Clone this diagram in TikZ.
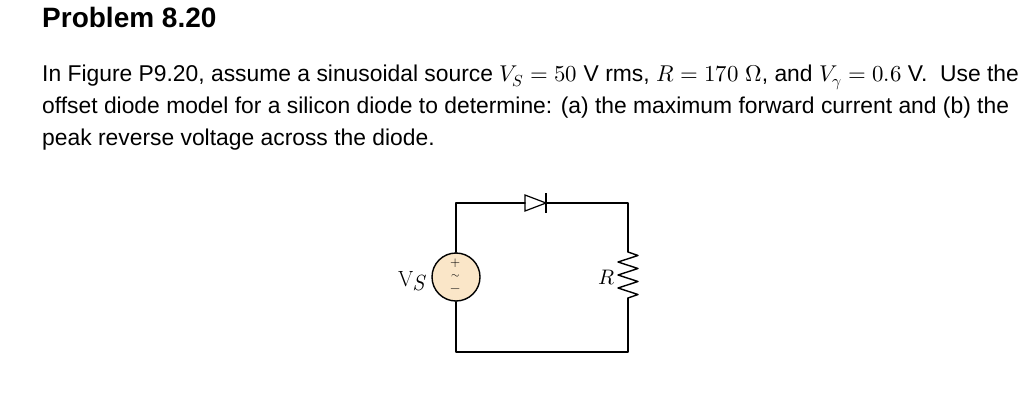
\documentclass[tikz,border=0pt]{standalone}
\usepackage{fontspec}
\setmainfont{Liberation Sans}
\newfontfamily\lmfont{Latin Modern Roman}
\usepackage{unicode-math}
\setmathfont{Latin Modern Math}
\definecolor{srcfill}{RGB}{250,230,200}
\begin{document}
\begin{tikzpicture}[x=1pt,y=-1pt,
  txt/.style={anchor=base west,inner sep=0pt,font=\fontsize{22.85}{26}\selectfont},
  sym/.style={inner sep=0pt,font=\fontsize{13}{13}\selectfont},
  wire/.style={line width=1.6pt,line cap=round,line join=round}]
\useasboundingbox (0,0) rectangle (1024,402);
\node[txt,font=\fontsize{28}{32}\selectfont\bfseries] (title) at (42,27) {Problem 8.20};
\node[txt] (l1) at (42,81) {In Figure P9.20, assume a sinusoidal source $V_S = 50$ V rms, $R = 170\ \Omega$, and $V_\gamma = 0.6$ V.\ \ Use the};
\node[txt] (l2) at (42,113) {offset diode model for a silicon diode to determine: (a) the maximum forward current and (b) the};
\node[txt] (l3) at (42,145) {peak reverse voltage across the diode.};
% circuit
\coordinate (tl) at (456,203);
\coordinate (tr) at (628,203);
\coordinate (br) at (628,352);
\coordinate (bl) at (456,352);
\coordinate (dA) at (525,203);
\coordinate (dK) at (546,203);
\coordinate (rT) at (628,252);
\coordinate (rB) at (628,298);
\node[circle,draw,line width=1.4pt,fill=srcfill,minimum size=48pt,inner sep=0pt] (src) at (456,277) {};
\draw[wire] (src.north) -- (tl) -- (dA);
\draw[wire] (dK) -- (tr) -- (rT);
\draw[wire] (rB) -- (br) -- (bl) -- (src.south);
\draw[line width=1.2pt,line join=miter] (dA) ++(0,-8) -- ++(0,16) -- (dK) -- cycle;
\draw[line width=1.6pt] (546,193) -- (546,213);
\draw[line width=1.4pt,line join=round] (rT) -- (638,255.5) -- (618,262) -- (638,268.5) -- (618,275) -- (638,281.5) -- (618,288) -- (638,294.5) -- (rB);
\node[sym] (pl) at (456,263) {$+$};
\node[sym,font=\fontsize{11}{11}\selectfont] (tl2) at (456,276.5) {$\sim$};
\node[sym] (mi) at (456,291) {$-$};
\node[anchor=east,font=\fontsize{22}{22}\selectfont\lmfont] (vs) at (428,281) {V\kern-1pt\raisebox{-4pt}{\itshape S}};
\node[anchor=east,font=\fontsize{21}{21}\selectfont] (rl) at (618,278) {$R$};
\end{tikzpicture}
\end{document}
